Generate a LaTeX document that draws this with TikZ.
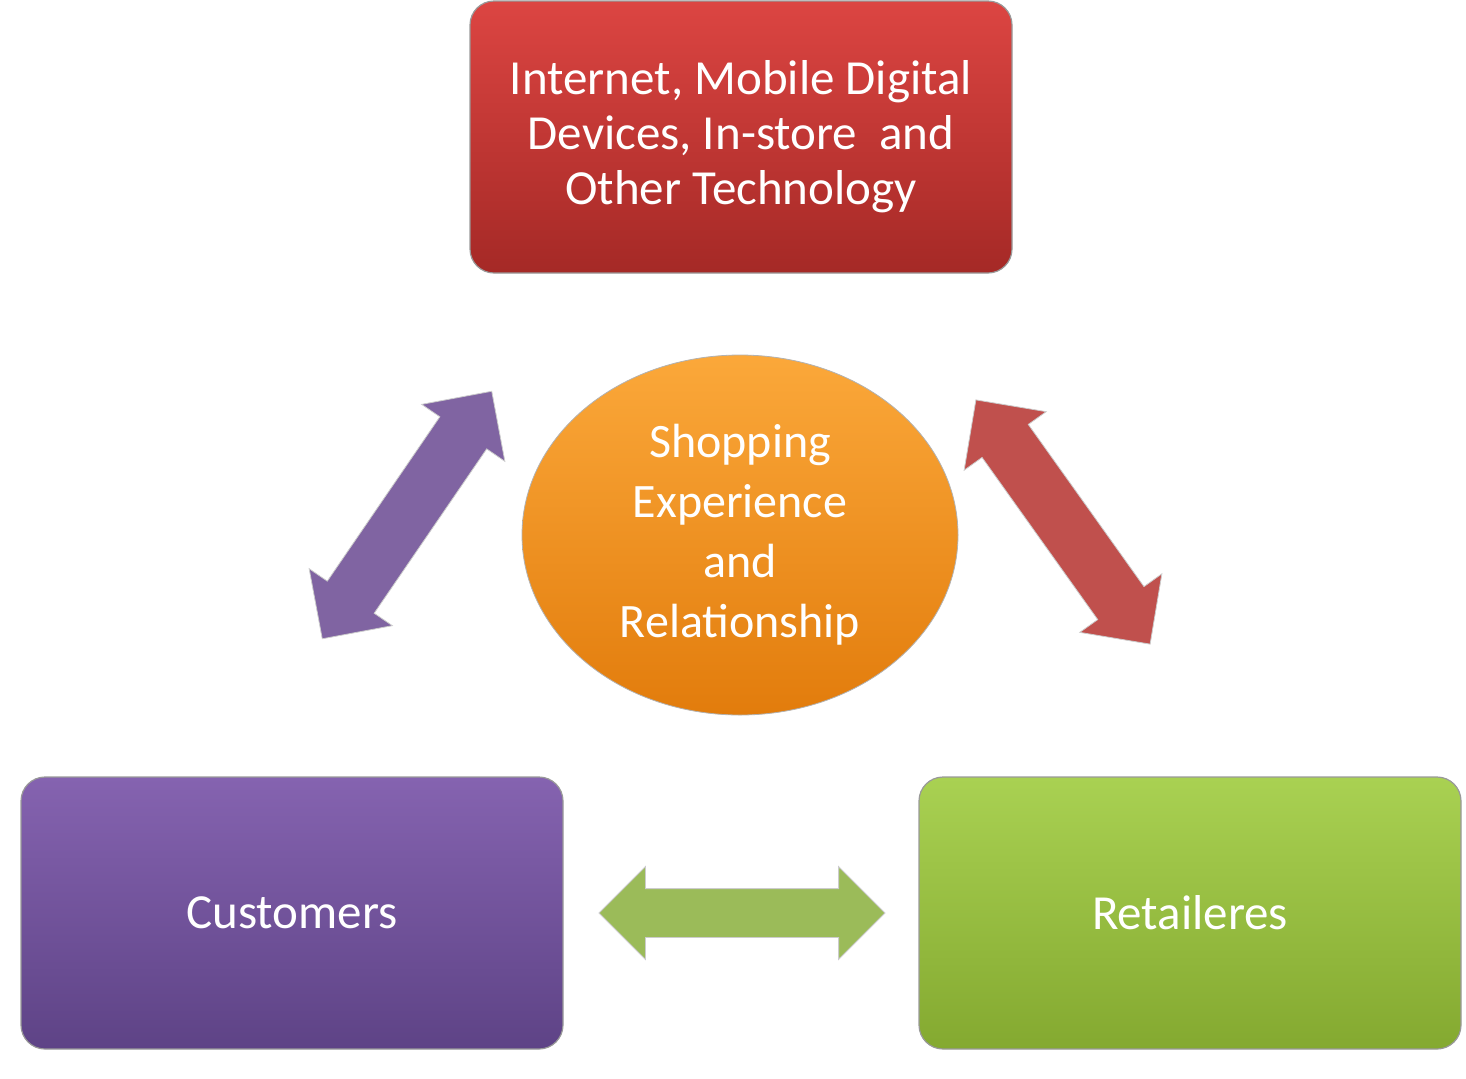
\documentclass[tikz,border=0pt]{standalone}
\usepackage{fontspec}
\setmainfont{Carlito}
\usetikzlibrary{shapes.arrows,shapes.geometric}
\definecolor{rT}{HTML}{DC4542}\definecolor{rB}{HTML}{A52926}
\definecolor{pT}{HTML}{8563B0}\definecolor{pB}{HTML}{5E4386}
\definecolor{gT}{HTML}{A9D152}\definecolor{gB}{HTML}{84A930}
\definecolor{oT}{HTML}{FBA83A}\definecolor{oB}{HTML}{E27C0C}
\definecolor{pA}{HTML}{8064A2}\definecolor{rA}{HTML}{C0504D}\definecolor{gA}{HTML}{9BBB59}
\tikzset{
 boxx/.style={rounded corners=12pt,minimum width=271pt,minimum height=136pt,align=center,text=white,font=\fontsize{24.5}{27.5}\selectfont,draw=black!40,line width=0.6pt},
 dbl/.style={double arrow,inner xsep=0pt,inner ysep=14pt,double arrow head extend=11pt,draw=black!20,line width=0.4pt},
}
\begin{document}
\begin{tikzpicture}[x=0.5pt,y=-0.5pt]
\useasboundingbox (0,0) rectangle (1466,1078);
\node[boxx,top color=rT,bottom color=rB] (tech) at (741,137) {Internet, Mobile Digital\\Devices, In-store\ \ and\\Other Technology};
\node[boxx,top color=pT,bottom color=pB] (cust) at (292,913) {Customers};
\node[boxx,top color=gT,bottom color=gB] (ret) at (1190,913) {Retaileres};
\node[ellipse,minimum width=218pt,minimum height=180pt,inner sep=0pt,align=center,text=white,top color=oT,bottom color=oB,draw=black!30,font=\fontsize{24}{30}\selectfont] (shop) at (740,535) {Shopping\\Experience\\and\\Relationship};
\node[dbl,fill=pA,minimum height=150pt,rotate=55.6] (a1) at (407,515) {};
\node[dbl,fill=rA,minimum height=150pt,rotate=-54.5] (a2) at (1063,522) {};
\node[dbl,fill=gA,minimum height=143pt,inner ysep=12pt] (a3) at (742,913) {};
\end{tikzpicture}
\end{document}
